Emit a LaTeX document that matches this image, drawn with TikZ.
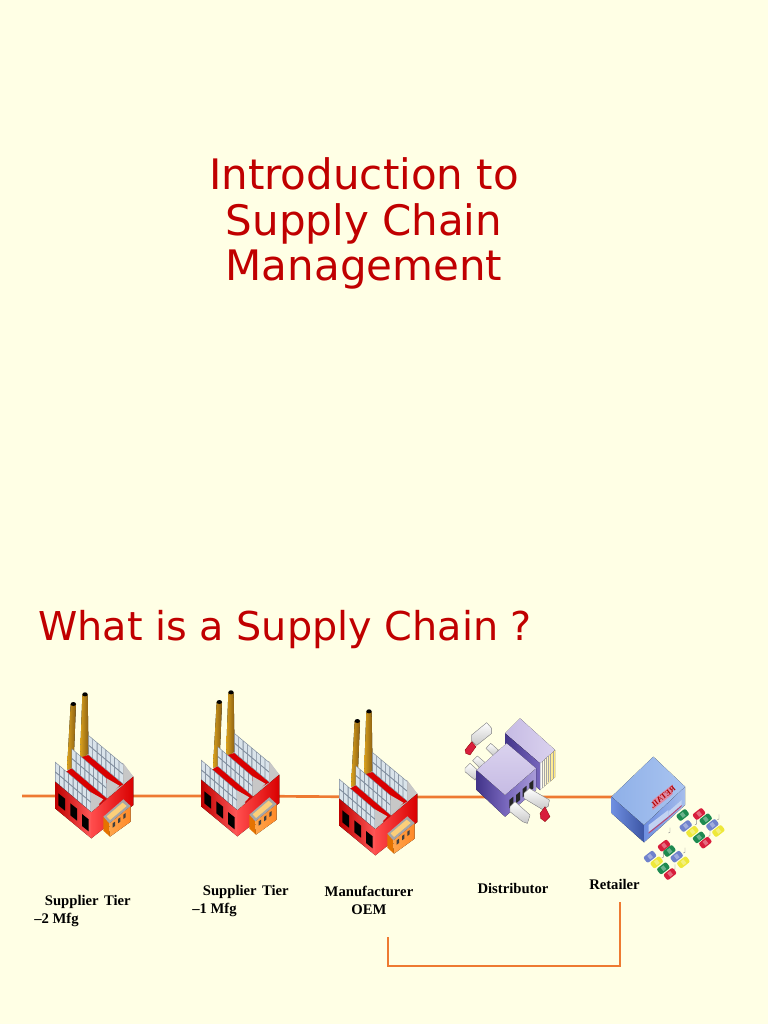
\documentclass[tikz,border=0pt]{standalone}
\usepackage{fontspec}
\setmainfont{DejaVu Sans}
\newfontfamily\labelfont{Liberation Serif}
\definecolor{pagebg}{HTML}{FFFFE5}
\definecolor{titlered}{HTML}{C00000}
\definecolor{chainorange}{HTML}{EE7A32}
\definecolor{glassbase}{HTML}{7F8C9C}
\definecolor{glasscell}{HTML}{D9E3EA}
\definecolor{distTop}{HTML}{C6BBE4}
\definecolor{distTopB}{HTML}{DAD2EE}
\definecolor{distDark}{HTML}{43358A}
\definecolor{distMid}{HTML}{7766BC}
\definecolor{distLight}{HTML}{A99CD8}
\definecolor{retTop}{HTML}{8FB0E8}
\definecolor{retTopB}{HTML}{A9C4F0}
\definecolor{retDark}{HTML}{3C55A4}
\definecolor{retMid}{HTML}{6F8FE0}
\definecolor{retLight}{HTML}{A6BEEC}
\definecolor{carblue}{HTML}{6F82CC}
\definecolor{cargreen}{HTML}{1E8A50}
\definecolor{caryellow}{HTML}{EEE83A}
\definecolor{carred}{HTML}{D81E3C}
\definecolor{chimneyA}{HTML}{D9A21E}
\definecolor{chimneyB}{HTML}{8A5E12}
\tikzset{
  titletext/.style={text=titlered,font=\fontsize{31.5}{34.3}\selectfont,inner sep=0pt},
  questiontext/.style={text=titlered,font=\fontsize{29.8}{34}\selectfont,inner sep=0pt},
  tierlabel/.style={font=\labelfont\bfseries\fontsize{11}{13.4}\selectfont,inner sep=0pt,text=black},
  chainline/.style={draw=chainorange,line width=2pt},
  returnline/.style={draw=chainorange,line width=2pt,line join=miter},
  truck/.style={top color=white,bottom color=black!22,draw=black!40,line width=.3pt},
  redcab/.style={fill=carred,draw=red!50!black,line width=.2pt}
}
\newcommand\glasspanel[5]{%
  \fill[glassbase] (#1,#2) -- ++(#3,#4) -- ++(0,#5) -- ++(-#3,-#4) -- cycle;
  \foreach \i in {0,...,7}{\foreach \j in {0,1}{%
    \pgfmathsetmacro\ax{#1+(\i+.12)*#3/8}
    \pgfmathsetmacro\ay{#2+(\i+.12)*#4/8+(\j+.08)*#5/2}
    \fill[glasscell] (\ax,\ay) -- ++(.78*#3/8,.78*#4/8) -- ++(0,.84*#5/2) -- ++(-.78*#3/8,-.78*#4/8) -- cycle;
  }}%
}
\newcommand\myfactory[2]{%
\begin{scope}[xshift=#1*.75pt,yshift=-#2*.75pt,x=.25pt,y=-.25pt]
  \fill[left color=chimneyA,right color=chimneyB] (152,72) -- (168,72) -- (160,268) -- (141,268) -- cycle;
  \fill[left color=chimneyA,right color=chimneyB] (187,44) -- (203,44) -- (206,235) -- (180,235) -- cycle;
  \fill[black] (160,72) ellipse (8 and 6);
  \fill[black] (195,43) ellipse (8 and 6);
  \fill[black!25] (105,305) -- (205,222) -- (310,250) -- (340,290) -- (215,395) -- cycle;
  \fill[red!85!black] (205,225) -- (310,313) -- (285,328) -- (165,238) -- cycle;
  \fill[red!85!black] (155,265) -- (262,355) -- (240,375) -- (120,285) -- cycle;
  \glasspanel{205}{165}{105}{88}{60}
  \fill[black!22] (310,253) -- (340,290) -- (310,313) -- cycle;
  \glasspanel{155}{205}{105}{90}{60}
  \fill[black!22] (260,295) -- (298,317) -- (260,355) -- cycle;
  \glasspanel{105}{245}{108}{92}{60}
  \fill[black!22] (213,337) -- (250,358) -- (213,397) -- cycle;
  \fill[left color=red!75!black,right color=red!65!white] (105,305) -- (214,397) -- (214,475) -- (105,385) -- cycle;
  \fill[left color=red!70!white,right color=red!85!black] (214,397) -- (340,290) -- (340,375) -- (214,475) -- cycle;
  \foreach \wx/\wy in {115/340,151/370,186/402}{
    \fill[black] (\wx,\wy) -- ++(20,16) -- ++(0,36) -- ++(-20,-16) -- cycle;
  }
  \fill[orange!90!black] (250,410) -- (268,430) -- (270,470) -- (250,452) -- cycle;
  \fill[left color=orange!70!white,right color=orange!90!red!85!white] (268,430) -- (332,378) -- (332,425) -- (270,470) -- cycle;
  \fill[black!35] (250,410) -- (310,358) -- (332,378) -- (268,430) -- cycle;
  \fill[yellow!30!orange!50!white] (260,409) -- (308,368) -- (320,378) -- (270,420) -- cycle;
  \foreach \wx/\wy in {278/430,294/417,310/404}{
    \fill[black!75] (\wx,\wy) -- ++(7,-5) -- ++(0,13) -- ++(-7,5) -- cycle;
  }
\end{scope}}
\newcommand\mycar[3]{%
  \fill[#3,shift={(#1,#2)},rotate=38,rounded corners=1.5pt] (-18,-11) rectangle (18,11);
  \fill[white,opacity=.35,shift={(#1,#2)},rotate=38] (-5,-7) rectangle (6,7);
}
\newcommand\myfigure[2]{%
  \draw[black!45,line width=.35pt] (#1,#2) -- ++(0,-14) (#1,#2) -- ++(-5,2);
}
\begin{document}
\begin{tikzpicture}[x=.75pt,y=-.75pt]
\useasboundingbox (0,0) rectangle (768,1024);
\fill[pagebg] (0,0) rectangle (768,1024);

\node[titletext,align=center] (title) at (364,223.5) {Introduction to\\Supply Chain\\Management};
\node[questiontext,anchor=west] (question) at (38,630) {What is a Supply Chain ?};

\coordinate (chainstart) at (22,796);
\coordinate (tiertwo) at (94,796);
\coordinate (tierone) at (240,796);
\coordinate (oem) at (378,797);
\coordinate (dist) at (508,797);
\coordinate (retail) at (640,797);
\draw[chainline] (chainstart) -- (tiertwo) -- (tierone) -- (oem) -- (dist) -- (retail);

\coordinate (retfrom) at (620,902);
\coordinate (retcornerA) at (620,966);
\coordinate (retcornerB) at (388,966);
\coordinate (retto) at (388,937);
\draw[returnline] (retfrom) -- (retcornerA) -- (retcornerB) -- (retto);

\myfactory{20}{680}
\myfactory{166}{678}
\myfactory{304}{697}

% distributor
\begin{scope}[xshift=450*.75pt,yshift=-700*.75pt,x=.25pt,y=-.25pt]
  \fill[truck] (65,105) -- (110,68) -- (125,85) -- (125,100) -- (80,136) -- (65,122) -- cycle;
  \fill[redcab] (45,150) -- (65,125) -- (78,140) -- (60,165) -- (47,160) -- cycle;
  \fill[truck] (108,145) -- (122,130) -- (145,150) -- (130,167) -- cycle;
  \fill[truck] (68,182) -- (82,168) -- (108,190) -- (92,207) -- cycle;
  \fill[truck] (45,205) -- (60,190) -- (88,215) -- (75,240) -- (45,215) -- cycle;
  \fill[left color=white,right color=yellow!65!orange!55!white] (270,190) -- (315,150) -- (315,232) -- (270,270) -- cycle;
  \foreach \s in {1,...,6}{
    \draw[black!35,line width=.4pt] ({270+\s*6.4},{190-\s*5.7}) -- ++(0,80);
  }
  \fill[left color=distTop,right color=distTopB] (165,100) -- (210,55) -- (315,150) -- (270,190) -- cycle;
  \fill[left color=distDark,right color=distMid] (165,100) -- (270,190) -- (270,270) -- (165,180) -- cycle;
  \fill[left color=distDark,right color=distMid] (80,210) -- (165,285) -- (165,350) -- (80,270) -- cycle;
  \fill[left color=distMid,right color=distLight] (165,285) -- (258,205) -- (258,270) -- (165,350) -- cycle;
  \fill[top color=distTopB,bottom color=distTop] (80,210) -- (170,130) -- (258,205) -- (165,285) -- cycle;
  \foreach \dx/\dy in {178/300,198/285,218/267,238/250}{
    \fill[black!85] (\dx,\dy) -- ++(12,-10) -- ++(0,25) -- ++(-12,10) -- cycle;
  }
  \fill[truck] (222,280) -- (238,265) -- (298,300) -- (295,318) -- (280,330) -- (222,295) -- cycle;
  \fill[truck] (180,320) -- (195,305) -- (240,345) -- (232,370) -- (218,365) -- (180,335) -- cycle;
  \fill[redcab] (270,340) -- (285,320) -- (300,350) -- (285,365) -- (272,355) -- cycle;
\end{scope}

% retail
\begin{scope}[xshift=600*.75pt,yshift=-745*.75pt,x=.25pt,y=-.25pt]
  \fill[left color=retMid,right color=retDark] (35,155) -- (132,240) -- (132,292) -- (35,205) -- cycle;
  \fill[left color=retMid,right color=retLight] (132,240) -- (255,125) -- (255,180) -- (132,292) -- cycle;
  \fill[left color=retTop,right color=retTopB] (35,155) -- (160,35) -- (255,125) -- (132,240) -- cycle;
  \fill[black!25!blue!30!red!45!white] (158,165) -- (218,118) -- (218,147) -- (158,195) -- cycle;
  \node[rotate=39,xscale=-1,transform shape,text=red!70!black,font=\labelfont\bfseries\fontsize{6}{6}\selectfont,inner sep=0pt] (retailsign) at (188,156) {RETAIL};
  \fill[retLight!70!white] (146,240) -- (205,195) -- (205,215) -- (146,262) -- cycle;
  \fill[retLight!70!white] (205,200) -- (245,165) -- (245,180) -- (205,215) -- cycle;
  \fill[red!50!retMid] (146,262) -- (205,215) -- (205,219) -- (146,266) -- cycle;
  \fill[red!50!retMid] (205,215) -- (245,180) -- (245,184) -- (205,219) -- cycle;
  \myfigure{210}{262}\myfigure{357}{222}\myfigure{255}{322}\myfigure{290}{237}\myfigure{330}{272}\myfigure{190}{337}\myfigure{225}{372}
  \mycar{248}{210}{cargreen}
  \mycar{297}{207}{carred}
  \mycar{257}{243}{carblue}
  \mycar{317}{223}{cargreen}
  \mycar{277}{260}{caryellow}
  \mycar{337}{240}{carblue}
  \mycar{297}{277}{cargreen}
  \mycar{355}{258}{caryellow}
  \mycar{316}{293}{carred}
  \mycar{192}{302}{carred}
  \mycar{150}{335}{carblue}
  \mycar{208}{318}{cargreen}
  \mycar{170}{352}{caryellow}
  \mycar{230}{335}{carblue}
  \mycar{190}{370}{cargreen}
  \mycar{250}{352}{caryellow}
  \mycar{210}{387}{carred}
\end{scope}

\node[tierlabel,anchor=north west,align=left] (labtwo) at (34,895.5) {\hspace*{8pt}Supplier\hspace{4pt}Tier\\–2 Mfg};
\node[tierlabel,anchor=north west,align=left] (labone) at (192,885) {\hspace*{8pt}Supplier\hspace{4pt}Tier\\–1 Mfg};
\node[tierlabel,align=center] (labman) at (369,900.5) {Manufacturer\\OEM};
\node[tierlabel] (labdist) at (513,888.5) {Distributor};
\node[tierlabel] (labret) at (614.5,884.5) {Retailer};
\end{tikzpicture}
\end{document}
